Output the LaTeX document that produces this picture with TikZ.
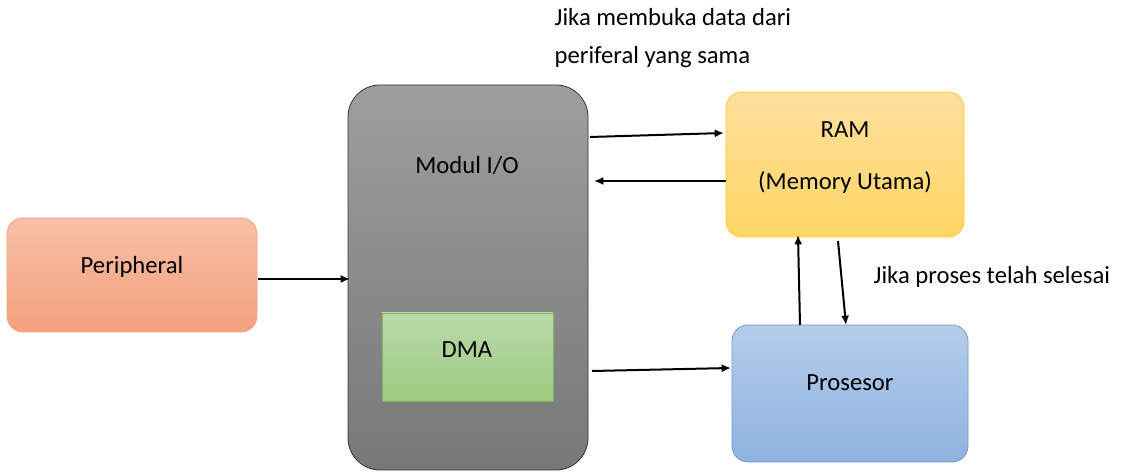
\documentclass[tikz,border=0pt]{standalone}
\usepackage{fontspec}
\usetikzlibrary{arrows.meta}
\setmainfont{Carlito}
\definecolor{perT}{HTML}{F7C0A8}
\definecolor{perB}{HTML}{F4A07C}
\definecolor{perD}{HTML}{F0A080}
\definecolor{dmaT}{HTML}{B9DAAA}
\definecolor{dmaB}{HTML}{9DCA80}
\definecolor{dmaD}{HTML}{7FB55E}
\definecolor{ramT}{HTML}{FFE09E}
\definecolor{ramB}{HTML}{FFD564}
\definecolor{ramD}{HTML}{FFC62A}
\definecolor{cpuT}{HTML}{B4CDEA}
\definecolor{cpuB}{HTML}{8EB3E0}
\definecolor{cpuD}{HTML}{6F9BD0}
\begin{document}
\begin{tikzpicture}[x=0.75pt,y=-0.75pt,
  box/.style={draw, rounded corners=12pt, line width=0.6pt},
  lbl/.style={font=\fontsize{18.5}{22}\selectfont},
  arr/.style={-{Latex[length=7pt,width=6pt]}, line width=1.5pt}]
\useasboundingbox (0,0) rectangle (1122,473);
\path[box, draw=perD, top color=perT, bottom color=perB] (7,218) rectangle (257,332);
\node[lbl] (per) at (132,267) {Peripheral};
\coordinate (perE) at (258,279);
\path[box, rounded corners=24pt, draw=black!80, top color=black!38, bottom color=black!53] (348,85) rectangle (588,470);
\node[lbl] (io) at (467,165) {Modul I/O};
\coordinate (ioW) at (350,279);
\coordinate (ioA) at (590,137);
\coordinate (ioB) at (594,181);
\coordinate (ioC) at (592,371);
\path[draw=dmaD, line width=0.6pt, top color=dmaT, bottom color=dmaB] (382,313) rectangle (553,401);
\node[lbl] (dma) at (467,350) {DMA};
\path[box, draw=ramD, top color=ramT, bottom color=ramB] (726,92) rectangle (964,237);
\node[lbl] (ram) at (845,130) {RAM};
\node[lbl] (ram2) at (845,182) {(Memory Utama)};
\coordinate (ramA) at (724,133);
\coordinate (ramB) at (726,181);
\coordinate (ramS1) at (798,235);
\coordinate (ramS2) at (838,241);
\path[box, draw=cpuD, top color=cpuT, bottom color=cpuB] (732,325) rectangle (968,462);
\node[lbl] (cpu) at (850,383) {Prosesor};
\coordinate (cpuW) at (731,368);
\coordinate (cpuN1) at (800,325);
\coordinate (cpuN2) at (846,325);
\node[lbl, anchor=west, align=left] (t1) at (550,38) {Jika membuka data dari\\[7pt]periferal yang sama};
\node[lbl, anchor=west] (t2) at (869,277) {Jika proses telah selesai};
\draw[arr] (perE) -- (ioW);
\draw[arr] (ioA) -- (ramA);
\draw[arr] (ramB) -- (ioB);
\draw[arr] (ioC) -- (cpuW);
\draw[arr] (cpuN1) -- (ramS1);
\draw[arr] (ramS2) -- (cpuN2);
\end{tikzpicture}
\end{document}
